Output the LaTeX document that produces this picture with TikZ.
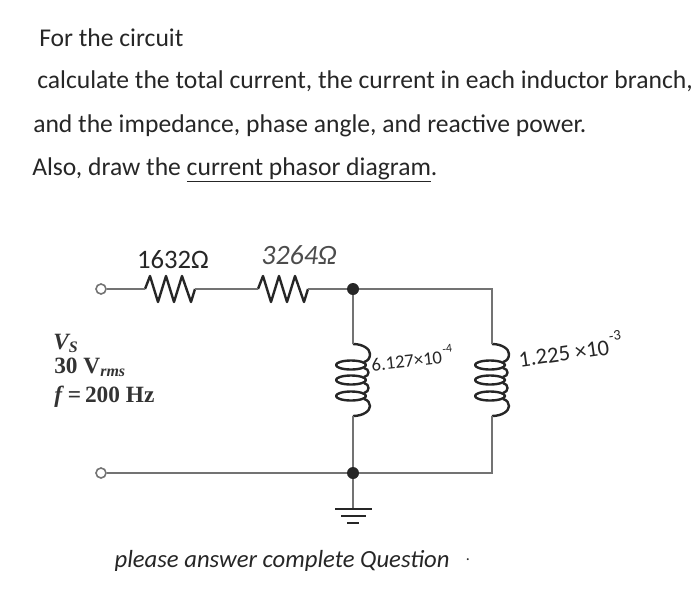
\documentclass[tikz,border=0pt]{standalone}
\usepackage{fontspec}
\setmainfont{Carlito}
\newfontfamily\serifbold{Liberation Serif}
\usepackage{tikz}

\tikzset{
    body/.style={anchor=base west, inner sep=0pt, font=\fontsize{19.2}{19.2}\selectfont, text=black!85},
    hand/.style={inner sep=0pt, text=black!85},
    given/.style={anchor=base west, inner sep=0pt, font=\serifbold\bfseries\fontsize{17.5}{17.5}\selectfont, text=black!80},
    wire/.style={draw=black!55, line width=1.3pt},
    part/.style={draw=black!85, line width=1.8pt, line join=round},
    dot/.style={circle, fill=black!85, inner sep=0pt, minimum size=12pt*0.75},
    terminal/.style={circle, draw=black!55, fill=white, line width=1.2pt, inner sep=0pt, minimum size=10pt*0.75},
    resistor/.pic={
        \draw[part] (0,0) -- (5,-13) -- (13,13) -- (21,-13) -- (29,13) -- (37,-13) -- (46,13) -- (50,0);
    },
    coil/.pic={
        % Windings
        \foreach \y in {21,36,52} {
            \draw[part] (-2,\y) ellipse (15 and 4.5);
        }
        % Outer bumps
        \draw[part] (0,0) .. controls (10,0) and (17,5) .. (17,10) .. controls (17,14) and (15,17) .. (11,18);
        \draw[part] (11,24) .. controls (17,25) and (17,32) .. (11,33);
        \draw[part] (11,39) .. controls (17,40) and (17,48) .. (11,49);
        \draw[part] (11,55) .. controls (15,56) and (17,59) .. (17,62) .. controls (17,67) and (10,72) .. (0,72);
    }
}

\begin{document}
\begin{tikzpicture}[x=0.75pt, y=-0.75pt]
    \useasboundingbox (0,0) rectangle (700,604);

    % Question text
    \node[body] (line1) at (39,46) {For the circuit};
    \node[body] (line2) at (37,88) {calculate the total current, the current in each inductor branch,};
    \node[body] (line3) at (33,132) {and the impedance, phase angle, and reactive power.};
    \node[body] (line4) at (32,175) {Also, draw the \underline{current phasor diagram}.};

    % Terminals and junctions
    \node[terminal] (T1) at (101,289) {};
    \node[terminal] (T2) at (101,473) {};
    \node[dot] (J1) at (353,289) {};
    \node[dot] (J2) at (353,473) {};

    % Resistors
    \coordinate (R1a) at (145,289);
    \coordinate (R1b) at (195,289);
    \coordinate (R2a) at (258,289);
    \coordinate (R2b) at (308,289);
    \pic at (R1a) {resistor};
    \pic at (R2a) {resistor};

    % Inductors
    \coordinate (L1a) at (353,344);
    \coordinate (L1b) at (353,416);
    \coordinate (L2a) at (492,344);
    \coordinate (L2b) at (492,416);
    \pic at (L1a) {coil};
    \pic at (L2a) {coil};

    % Ground
    \coordinate (G1) at (353,509);
    \coordinate (G1l) at (335,509);
    \coordinate (G1r) at (372,509);
    \coordinate (G2l) at (341,516);
    \coordinate (G2r) at (366,516);
    \coordinate (G3l) at (347,523);
    \coordinate (G3r) at (359,523);

    % Wires
    \draw[wire] (T1) -- (R1a);
    \draw[wire] (R1b) -- (R2a);
    \draw[wire] (R2b) -- (J1);
    \draw[wire] (J1) -- (L1a);
    \draw[wire] (L1b) -- (J2);
    \draw[wire] (J1) -| (L2a);
    \draw[wire] (J2) -| (L2b);
    \draw[wire] (T2) -- (J2);
    \draw[wire] (J2) -- (G1);
    \draw[part] (G1l) -- (G1r);
    \draw[part] (G2l) -- (G2r);
    \draw[part] (G3l) -- (G3r);

    % Source label
    \node[given] (Vs) at (53,349) {\textit{V\raisebox{-0.3ex}{\fontsize{12}{12}\selectfont S}}};
    \node[given] (Vrms) at (54,373) {30 V\raisebox{-0.3ex}{\fontsize{12}{12}\selectfont\textit{rms}}};
    \node[given] (freq) at (54,402) {\textit{f}\,=\,200 Hz};

    % Handwritten values
    \node[hand, font=\fontsize{20}{20}\selectfont] (R1val) at (173,260) {1632Ω};
    \node[hand, font=\itshape\fontsize{21}{21}\selectfont, text=black!70] (R2val) at (299,255) {3264Ω};
    \node[hand, font=\fontsize{14}{14}\selectfont, rotate=6] (L1val) at (412,358) {6.127×10\kern1pt\raisebox{1.2ex}{\fontsize{9}{9}\selectfont -4}};
    \node[hand, font=\fontsize{17}{17}\selectfont, rotate=8] (L2val) at (570,349) {1.225 ×10\kern1pt\raisebox{1.2ex}{\fontsize{11}{11}\selectfont -3}};
    \node[hand, font=\itshape\fontsize{18.5}{18.5}\selectfont] (note) at (282,561) {please answer complete Question};
    \node[hand, font=\fontsize{12}{12}\selectfont] (notedot) at (468,560) {.};
\end{tikzpicture}
\end{document}
